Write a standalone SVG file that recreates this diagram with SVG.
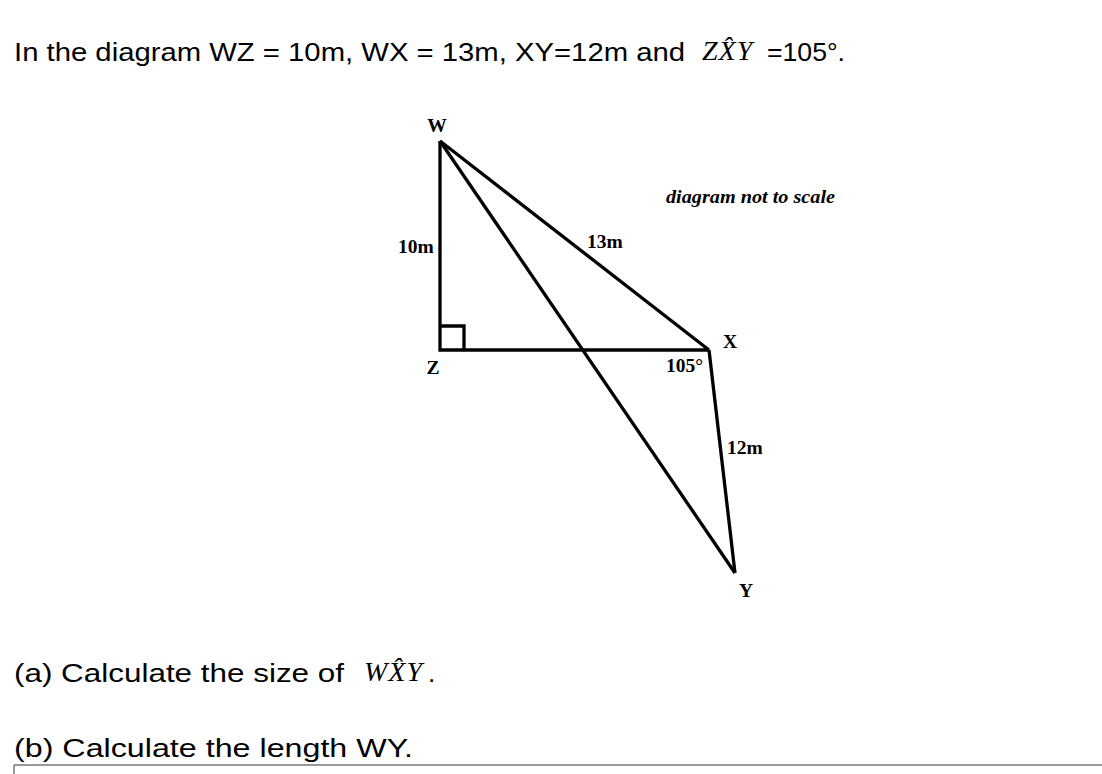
<svg xmlns="http://www.w3.org/2000/svg" width="1102" height="774" viewBox="0 0 1102 774">
<style>
.q{font-family:"Liberation Sans",Arial,sans-serif;font-size:26.5px;fill:#000}
.m{font-family:"Liberation Serif","Times New Roman",serif;font-style:italic;font-size:28px;fill:#000;letter-spacing:1px}
.lb{font-family:"Liberation Serif","Times New Roman",serif;font-weight:bold;font-size:19.5px;fill:#000}
.ln{stroke:#000;stroke-width:3.3;fill:none;stroke-linejoin:miter}
</style>
<rect width="1102" height="774" fill="#fff"/>
<g id="question">
<text class="q" x="14" y="61" textLength="671" lengthAdjust="spacingAndGlyphs">In the diagram WZ = 10m, WX = 13m, XY=12m and</text>
<text class="m" x="702" y="60">ZX̂Y</text>
<text class="q" x="767" y="61" textLength="78" lengthAdjust="spacingAndGlyphs">=105°.</text>
</g>
<g id="connectors">
<polyline class="ln" points="440,141 440,350 709,350"/>
<line class="ln" x1="440" y1="141" x2="709" y2="350"/>
<line class="ln" x1="440" y1="141" x2="735" y2="573"/>
<line class="ln" x1="709" y1="350" x2="735" y2="573"/>
<polyline class="ln" points="440,326 464,326 464,350" stroke-width="2.8"/>
</g>
<g id="W"><text class="lb" x="437" y="132" text-anchor="middle">W</text></g>
<g id="Z"><text class="lb" x="433" y="374" text-anchor="middle">Z</text></g>
<g id="X"><text class="lb" x="730" y="348" text-anchor="middle">X</text></g>
<g id="Y"><text class="lb" x="746" y="597" text-anchor="middle">Y</text></g>
<g id="labels">
<text class="lb" x="398" y="253">10m</text>
<text class="lb" x="587" y="248">13m</text>
<text class="lb" x="666" y="372">105°</text>
<text class="lb" x="727" y="454">12m</text>
<text class="lb" x="666" y="203" font-style="italic" font-size="20" textLength="169" lengthAdjust="spacingAndGlyphs">diagram not to scale</text>
</g>
<g id="parts">
<text class="q" x="14" y="682" textLength="330" lengthAdjust="spacingAndGlyphs">(a) Calculate the size of</text>
<text class="m" x="364" y="681">WX̂Y</text>
<text class="q" x="428" y="682">.</text>
<text class="q" x="14" y="757" textLength="399" lengthAdjust="spacingAndGlyphs">(b) Calculate the length WY.</text>
</g>
<g id="rule">
<line x1="14" y1="765" x2="1102" y2="765" stroke="#777" stroke-width="1.5"/>
<line x1="14" y1="765" x2="14" y2="774" stroke="#777" stroke-width="1.5"/>
</g>
</svg>
